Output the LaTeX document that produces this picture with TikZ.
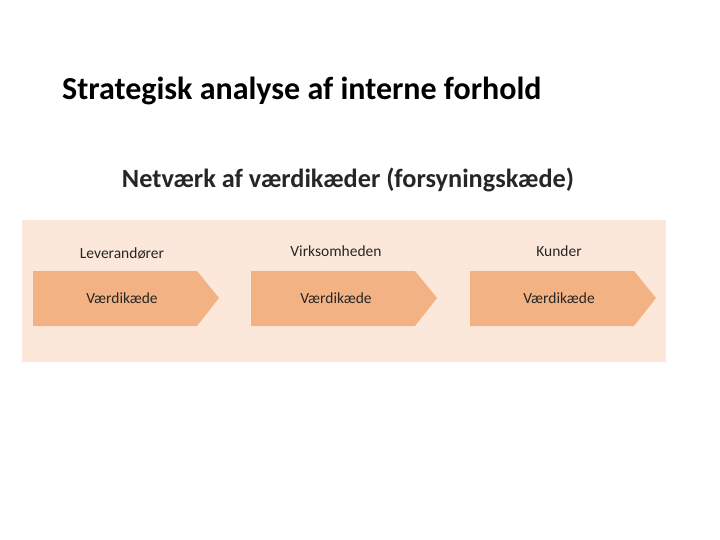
\documentclass[tikz,border=0pt]{standalone}
\usepackage{fontspec}
\setmainfont{Carlito}
\definecolor{bgpeach}{HTML}{FCE8DA}
\definecolor{arrowfill}{HTML}{F2B283}
\definecolor{txtgrey}{HTML}{262626}
\begin{document}
\begin{tikzpicture}[x=1pt,y=-1pt,
  chev/.style={fill=arrowfill,draw=none},
  lbl/.style={text=txtgrey,font=\fontsize{15.5}{18}\selectfont,inner sep=0pt,anchor=center}]
\useasboundingbox (0,0) rectangle (720,540);
\fill[white] (0,0) rectangle (720,540);
\node[anchor=west,inner sep=0pt,font=\fontsize{32}{36}\selectfont\bfseries] (head) at (62,91) {Strategisk analyse af interne forhold};
\node[anchor=center,inner sep=0pt,text=txtgrey,font=\fontsize{26.3}{30}\selectfont\bfseries] (sub) at (348,180) {Netværk af værdikæder (forsyningskæde)};
\fill[bgpeach] (22,220) rectangle (666,362);
% chevrons
\fill[chev] (33,271) -- (197,271) -- (219,298) -- (197,326) -- (33,326) -- cycle;
\fill[chev] (251,271) -- (415,271) -- (437,298) -- (415,326) -- (251,326) -- cycle;
\fill[chev] (470,271) -- (634,271) -- (656,298) -- (634,326) -- (470,326) -- cycle;
\node[lbl] (l1) at (122,253) {Leverandører};
\node[lbl] (l2) at (336,251) {Virksomheden};
\node[lbl] (l3) at (559,251) {Kunder};
\node[lbl] (v1) at (122,298) {Værdikæde};
\node[lbl] (v2) at (336,298) {Værdikæde};
\node[lbl] (v3) at (559,298) {Værdikæde};
\end{tikzpicture}
\end{document}
